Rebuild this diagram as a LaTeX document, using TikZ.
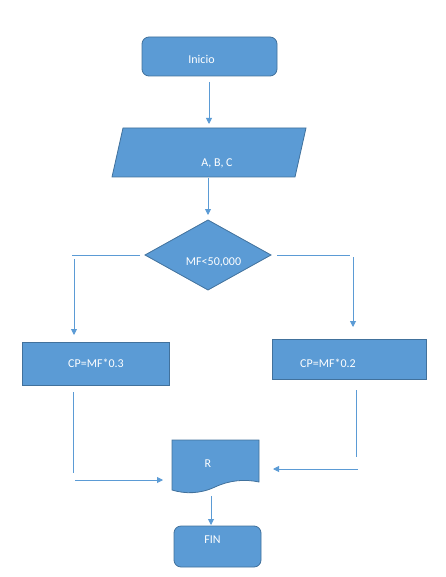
\documentclass[tikz,border=0pt]{standalone}
\usepackage{fontspec}
\setmainfont{Carlito}
\usetikzlibrary{shapes.geometric, arrows.meta}
\definecolor{boxfill}{HTML}{5B9BD5}
\definecolor{boxline}{HTML}{41719C}
\begin{document}
\begin{tikzpicture}[x=1pt,y=-1pt]
  \tikzset{shape node/.style={fill=boxfill,draw=boxline,line width=0.8pt,inner sep=0,outer sep=0},
    frame node/.style={inner sep=0,outer sep=0},
    text node/.style={text=white,font=\fontsize{12}{14}\selectfont,inner sep=0},
    flow/.style={draw=boxfill,line width=0.9pt},
    flow arrow/.style={flow,-{Triangle[length=6pt,width=6pt]}}}
  \useasboundingbox (0,0) rectangle (445,577);
  % shapes
  \node(ini) at (209.5,56.5) [shape node,rounded corners=7,minimum width=135,minimum height=39] {};
  \node(inp) at (209,152.5) [frame node,minimum width=194,minimum height=49] {};
  \draw [shape node] (inp.south west) -- ([xshift=11pt]inp.north west) -- (inp.north east)
    -- ([xshift=-11pt]inp.south east) -- cycle;
  \node(dec) at (208,255) [shape node,diamond,minimum width=126,minimum height=70] {};
  \node(cpl) at (95.5,363.5) [shape node,minimum width=147,minimum height=43] {};
  \node(cpr) at (349,359) [shape node,minimum width=154,minimum height=40] {};
  \node(rep) at (215.5,465) [frame node,minimum width=87,minimum height=50] {};
  \draw [shape node] (rep.south west) -- (rep.north west) -- (rep.north east) -- (259,482)
    .. controls (245,479) and (230,480) .. (215,487)
    .. controls (200,494) and (185,494) .. (rep.south west) -- cycle;
  \node(fin) at (217.5,546.5) [shape node,rounded corners=7,minimum width=87,minimum height=41] {};
  % texts
  \node(ini-t) at (201.5,59) [text node] {Inicio};
  \node(inp-t) at (217,163) [text node] {A, B, C};
  \node(dec-t) at (213.5,262) [text node] {MF<50,000};
  \node(cpl-t) at (96,363) [text node] {CP=MF*0.3};
  \node(cpr-t) at (328,363) [text node] {CP=MF*0.2};
  \node(rep-t) at (208,464) [text node] {R};
  \node(fin-t) at (212.5,540) [text node] {FIN};
  % loose ends of the branches
  \coordinate(ll) at (72,255);
  \coordinate(lv) at (74,259);
  \coordinate(rl) at (350,255);
  \coordinate(rv) at (353,257);
  \coordinate(lb) at (73,473);
  \coordinate(lh) at (75,480);
  \coordinate(rb) at (356,457);
  \coordinate(rh) at (358,469);
  % connectors
  \draw [flow arrow,shorten <=6,shorten >=4] (ini.south -| inp.north) -- (inp.north);
  \draw [flow arrow,shorten <=1,shorten >=5] (inp.south -| dec.north) -- (dec.north);
  \draw [flow,shorten <=5] (dec.west) -- (ll);
  \draw [flow arrow,shorten >=7] (lv) -- (lv |- cpl.north);
  \draw [flow,shorten <=6] (dec.east) -- (rl);
  \draw [flow arrow,shorten >=12] (rv) -- (rv |- cpr.north);
  \draw [flow,shorten <=7] (lb |- cpl.south) -- (lb);
  \draw [flow arrow,shorten >=9] (lh) -- (lh -| rep.west);
  \draw [flow,shorten <=11] (rb |- cpr.south) -- (rb);
  \draw [flow arrow,shorten >=14] (rh) -- (rh -| rep.east);
  \draw [flow arrow,shorten <=6,shorten >=1] ([xshift=-4.5pt]rep.south) -- ([xshift=-4.5pt]rep.south |- fin.north);
\end{tikzpicture}
\end{document}
